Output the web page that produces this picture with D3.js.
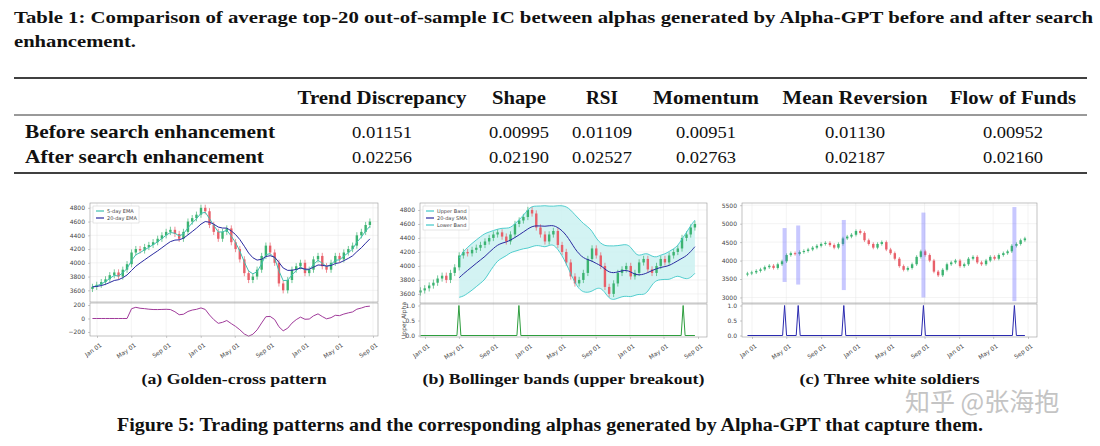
<!DOCTYPE html>
<meta charset="utf-8">
<head><title>Alpha-GPT table and figure</title></head>
<style>
  body { margin: 0; background: #fff; font-family: "Liberation Serif", "DejaVu Serif", serif; }
  svg text { fill: #111; }
  .tick text { font-family: "DejaVu Sans", sans-serif; font-size: 6px; fill: #444; }
  .tick line { stroke: #ccc; }
</style>
<body>
<svg id="chart" width="1100" height="446"></svg>
<script src="https://cdnjs.cloudflare.com/ajax/libs/d3/7.8.5/d3.min.js"></script>
<script>
const headers = ['Trend Discrepancy', 'Shape', 'RSI', 'Momentum', 'Mean Reversion', 'Flow of Funds'];
const rowLabels = ['Before search enhancement', 'After search enhancement'];
const before = ['0.01151', '0.00995', '0.01109', '0.00951', '0.01130', '0.00952'];
const after = ['0.02256', '0.02190', '0.02527', '0.02763', '0.02187', '0.02160'];

// biweekly closes, mid-Dec 2019 .. late Aug 2022
const closes = [3650,
  3680, 3720, 3760, 3820, 3860, 3800, 3900, 3980, 4150, 4200, 4180, 4230,
  4260, 4300, 4350, 4400, 4450, 4480, 4420, 4350, 4450, 4600, 4650, 4700,
  4800, 4750, 4550, 4450, 4350, 4450, 4500, 4300, 4200, 4050, 3850, 3750,
  3800, 3900, 4100, 4250, 4150, 4000, 3700, 3600, 3750, 3900, 3950, 4000,
  3850, 3900, 4050, 4100, 3950, 3900, 4000, 4100, 4050, 4150, 4200, 4250,
  4400, 4450, 4550, 4600];
const bollSignals = ['2020-05-01', '2020-12-01', '2022-07-10'];
const soldierSignals = ['2020-04-25', '2020-06-12', '2020-11-20', '2021-08-28', '2022-07-15'];
const soldierSpans = [[3420, 4880], [3350, 4950], [3200, 5100], [3000, 5300], [2900, 5450]];
const tickLabels = ['Jan 01', 'May 01', 'Sep 01', 'Jan 01', 'May 01', 'Sep 01', 'Jan 01', 'May 01', 'Sep 01'];
const captions = ['(a) Golden-cross pattern', '(b) Bollinger bands (upper breakout)', '(c) Three white soldiers'];

const svg = d3.select('#chart');
const parse = d3.timeParse('%Y-%m-%d');
const dates = closes.map((c, i) => d3.timeDay.offset(parse('2019-12-16'), Math.round(i * 15.3)));
const bars = closes.map((c, i) => {
  const o = i ? closes[i - 1] : c - 30;
  return { date: dates[i], o, c, h: Math.max(o, c) + 45, l: Math.min(o, c) - 45 };
});

const txt = (x, y, s, size, w, len, anchor) => {
  const t = svg.append('text').attr('x', x).attr('y', y).attr('font-size', size).attr('font-weight', w)
    .attr('text-anchor', anchor || 'start').text(s);
  if (len) t.attr('textLength', len).attr('lengthAdjust', 'spacingAndGlyphs');
  return t;
};

// ---- table
txt(14, 23, 'Table 1: Comparison of average top-20 out-of-sample IC between alphas generated by Alpha-GPT before and after search', 17, 'bold', 1079);
txt(14, 47, 'enhancement.', 17, 'bold', 122);
[[78, 1.5], [115, 0.8], [173, 1.5]].forEach(([y, w]) =>
  svg.append('line').attr('x1', 14).attr('x2', 1087).attr('y1', y).attr('y2', y).attr('stroke', '#000').attr('stroke-width', w));
const colX = [382, 519, 602, 706, 855, 1013];
const colW = [169, 54, 32, 106, 145, 126];
headers.forEach((h, i) => txt(colX[i], 104, h, 19, 'bold', colW[i], 'middle'));
[before, after].forEach((vals, r) => {
  const y = 138 + r * 25;
  txt(25, y, rowLabels[r], 19, 'bold', r ? 239 : 250);
  vals.forEach((v, i) => txt(colX[i], y, v, 16.5, 'normal', 60, 'middle'));
});

// ---- helpers
const ema = (arr, n) => { const k = 2 / (n + 1); let e = arr[0]; return arr.map(v => (e = v * k + e * (1 - k))); };
const tickDates = d3.range(9).map(i => d3.timeMonth.offset(parse('2020-01-01'), i * 4));

function panel(cfg) {
  const g = svg.append('g');
  const x = d3.scaleTime().domain([tickDates[0], tickDates[8]]).range([cfg.t0, cfg.t1]);
  const y = d3.scaleLinear().domain(cfg.yDom).range([cfg.mainBottom, cfg.top]);
  const y2 = d3.scaleLinear().domain(cfg.subDom).range([cfg.subBottom, cfg.subTop]);
  const frame = (yt, yb) => g.append('rect').attr('x', cfg.left).attr('y', yt).attr('width', cfg.right - cfg.left)
    .attr('height', yb - yt).attr('fill', 'none').attr('stroke', '#999').attr('stroke-width', 0.6);
  tickDates.forEach(d => g.append('line').attr('x1', x(d)).attr('x2', x(d)).attr('y1', cfg.top).attr('y2', cfg.subBottom).attr('stroke', '#e6e6e6').attr('stroke-width', 0.5));
  cfg.yTicks.forEach(v => g.append('line').attr('x1', cfg.left).attr('x2', cfg.right).attr('y1', y(v)).attr('y2', y(v)).attr('stroke', '#e6e6e6').attr('stroke-width', 0.5));
  g.append('g').attr('transform', `translate(${cfg.left},0)`).call(d3.axisLeft(y).tickValues(cfg.yTicks).tickFormat(d3.format('d')).tickSize(2))
    .call(a => a.select('.domain').remove());
  g.append('g').attr('transform', `translate(${cfg.left},0)`).call(d3.axisLeft(y2).tickValues(cfg.subTicks).tickFormat(cfg.subFmt).tickSize(2))
    .call(a => a.select('.domain').remove());
  const xa = g.append('g').attr('transform', `translate(0,${cfg.subBottom})`)
    .call(d3.axisBottom(x).tickValues(tickDates).tickFormat((d, i) => tickLabels[i]).tickSize(2));
  xa.select('.domain').remove();
  xa.selectAll('text').attr('transform', 'rotate(-35)').attr('text-anchor', 'end').attr('dx', -2).attr('dy', 6);
  if (cfg.extra) cfg.extra(g, x, y);
  const bw = 2.4;
  bars.forEach(b => {
    const col = b.c >= b.o ? '#3cb371' : '#e8606a';
    g.append('line').attr('x1', x(b.date)).attr('x2', x(b.date)).attr('y1', y(b.h)).attr('y2', y(b.l)).attr('stroke', col).attr('stroke-width', 0.7);
    g.append('rect').attr('x', x(b.date) - bw / 2).attr('y', y(Math.max(b.o, b.c))).attr('width', bw)
      .attr('height', Math.max(1, Math.abs(y(b.o) - y(b.c)))).attr('fill', col);
  });
  if (cfg.over) cfg.over(g, x, y);
  g.append('path').datum(cfg.sub).attr('fill', 'none').attr('stroke', cfg.subColor).attr('stroke-width', 1)
    .attr('d', d3.line().x(d => x(d[0])).y(d => y2(d[1])));
  frame(cfg.top, cfg.mainBottom); frame(cfg.subTop, cfg.subBottom);
  if (cfg.subLabel) g.append('text').attr('transform', `translate(${cfg.left - 14},${(cfg.subTop + cfg.subBottom) / 2}) rotate(-90)`)
    .attr('text-anchor', 'middle').attr('font-family', 'DejaVu Sans').attr('font-size', 6).style('fill', '#444').text(cfg.subLabel);
  if (cfg.legend) {
    const lg = g.append('g').attr('transform', `translate(${cfg.left + 3},${cfg.top + 3})`);
    lg.append('rect').attr('width', 46).attr('height', cfg.legend.length * 7 + 3).attr('fill', '#fff').attr('stroke', '#ccc').attr('stroke-width', 0.5);
    cfg.legend.forEach(([c, t], i) => {
      lg.append('line').attr('x1', 3).attr('x2', 11).attr('y1', 5 + i * 7).attr('y2', 5 + i * 7).attr('stroke', c).attr('stroke-width', 1.2);
      lg.append('text').attr('x', 14).attr('y', 7 + i * 7).attr('font-family', 'DejaVu Sans').attr('font-size', 5).style('fill', '#444').text(t);
    });
  }
  svg.append('text').attr('x', (cfg.left + cfg.right) / 2).attr('y', 384).attr('text-anchor', 'middle')
    .attr('font-size', 15).attr('font-weight', 'bold').attr('textLength', cfg.capLen).attr('lengthAdjust', 'spacingAndGlyphs').text(cfg.caption);
}

const e5 = ema(closes, 3), e20 = ema(closes, 9);
const spike = (sigs) => {
  const pts = [[dates[0], 0]];
  sigs.map(parse).forEach(d => { pts.push([d3.timeDay.offset(d, -7), 0], [d, 1], [d3.timeDay.offset(d, 7), 0]); });
  pts.push([dates[dates.length - 1], 0]);
  return pts;
};

// (a)
panel({
  left: 90, right: 378, t0: 97, t1: 373, top: 203, mainBottom: 302, subTop: 303, subBottom: 336,
  yDom: [3430, 4870], yTicks: d3.range(3600, 4801, 200), subDom: [-260, 230], subTicks: [-200, 0, 200], subFmt: d3.format('d'),
  sub: dates.map((d, i) => [d, i < 9 ? 0 : e5[i] - e20[i]]), subColor: '#a03a9a', caption: captions[0], capLen: 185,
  legend: [['#40c0b0', '5-day EMA'], ['#2a2aa0', '20-day EMA']],
  over: (g, x, y) => {
    g.append('path').datum(e5).attr('fill', 'none').attr('stroke', '#40c0b0').attr('stroke-width', 1).attr('d', d3.line().x((d, i) => x(dates[i])).y(d => y(d)));
    g.append('path').datum(e20).attr('fill', 'none').attr('stroke', '#2a2aa0').attr('stroke-width', 1).attr('d', d3.line().x((d, i) => x(dates[i])).y(d => y(d)));
  }
});

// (b)
const win = 9;
const boll = closes.map((c, i) => {
  if (i < win) return null;
  const s = closes.slice(i - win, i + 1), m = d3.mean(s), sd = d3.deviation(s);
  return { d: dates[i], m, u: m + 1.6 * sd + 40, l: m - 1.6 * sd - 40 };
}).filter(Boolean);
panel({
  left: 420, right: 707, t0: 425, t1: 698, top: 203, mainBottom: 303, subTop: 304, subBottom: 337,
  yDom: [3470, 4900], yTicks: d3.range(3600, 4801, 200), subDom: [-0.05, 1.05], subTicks: [0, 0.5, 1], subFmt: d3.format('.1f'),
  sub: spike(bollSignals), subColor: '#2e9e3e', subLabel: 'Upper Alpha', caption: captions[1], capLen: 282,
  legend: [['#40c8c8', 'Upper Band'], ['#2a2aa0', '20-day SMA'], ['#40c8c8', 'Lower Band']],
  extra: (g, x, y) => {
    g.append('path').datum(boll).attr('fill', '#c8f0f0').attr('opacity', 0.8)
      .attr('d', d3.area().x(d => x(d.d)).y0(d => y(d.l)).y1(d => y(d.u)).curve(d3.curveBasis));
  },
  over: (g, x, y) => {
    ['u', 'l'].forEach(k => g.append('path').datum(boll).attr('fill', 'none').attr('stroke', '#40c8c8').attr('stroke-width', 0.9)
      .attr('d', d3.line().x(d => x(d.d)).y(d => y(d[k])).curve(d3.curveBasis)));
    g.append('path').datum(boll).attr('fill', 'none').attr('stroke', '#2a2aa0').attr('stroke-width', 1)
      .attr('d', d3.line().x(d => x(d.d)).y(d => y(d.m)).curve(d3.curveBasis));
  }
});

// (c)
panel({
  left: 742, right: 1037, t0: 752, t1: 1028, top: 203, mainBottom: 303, subTop: 304, subBottom: 337,
  yDom: [2850, 5560], yTicks: d3.range(3000, 5501, 500), subDom: [-0.05, 1.05], subTicks: [0, 0.5, 1], subFmt: d3.format('.1f'),
  sub: spike(soldierSignals), subColor: '#2a2ab0', caption: captions[2], capLen: 180,
  over: (g, x, y) => {
    soldierSignals.map(parse).forEach((d, i) => g.append('rect').attr('x', x(d) - 2).attr('width', 4)
      .attr('y', y(soldierSpans[i][1])).attr('height', y(soldierSpans[i][0]) - y(soldierSpans[i][1]))
      .attr('fill', '#6060ff').attr('opacity', 0.35));
  }
});

svg.append('text').attr('x', 905).attr('y', 411).attr('font-family', 'Noto Sans CJK SC').attr('font-size', 25)
  .style('fill', '#c4c4c4').text('知乎 @张海抱');
txt(550, 431, 'Figure 5: Trading patterns and the corresponding alphas generated by Alpha-GPT that capture them.', 18, 'bold', 866, 'middle');
</script>
</body>
</html>
